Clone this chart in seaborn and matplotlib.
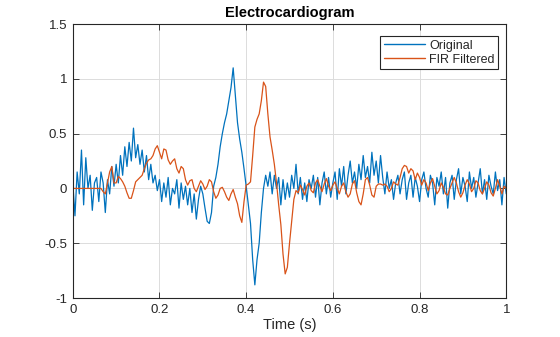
import numpy as np
import pandas as pd
import matplotlib
matplotlib.use("Agg")
import matplotlib.pyplot as plt
import seaborn as sns

time_s = [round(i * 0.005, 3) for i in range(201)]

original = [
    0.05, -0.25, 0.15, -0.05, 0.35, -0.15, 0.28, 0.0, 0.12, -0.2,
    0.05, 0.1, -0.12, 0.15, 0.05, -0.22, 0.08, -0.05, 0.2, 0.02,
    0.22, 0.05, 0.3, 0.12, 0.38, 0.2, 0.42, 0.25, 0.55, 0.28,
    0.4, 0.22, 0.35, 0.15, 0.3, 0.08, 0.22, 0.05, 0.12, -0.02,
    0.08, -0.12, 0.05, -0.08, 0.1, -0.15, 0.0, -0.05, 0.08, -0.18,
    0.05, -0.1, 0.02, -0.15, 0.0, -0.22, -0.05, -0.28, -0.1, 0.02,
    -0.05, -0.18, -0.3, -0.32, -0.22, 0.02, 0.1, 0.22, 0.38, 0.5,
    0.6, 0.68, 0.8, 0.92, 1.1, 0.85, 0.6, 0.45, 0.33, 0.18,
    0.02, -0.15, -0.32, -0.65, -0.88, -0.65, -0.5, -0.22, 0.0, 0.12,
    0.02, 0.15, -0.05, 0.12, 0.0, 0.1, -0.15, 0.08, -0.1, 0.05,
    -0.08, 0.12, 0.0, 0.22, -0.05, 0.1, -0.1, 0.05, -0.12, 0.08,
    0.0, 0.12, -0.08, 0.1, -0.15, 0.05, 0.15, -0.05, 0.1, -0.08,
    0.05, 0.15, -0.1, 0.18, 0.02, 0.2, -0.05, 0.12, 0.25, 0.05,
    0.15, 0.0, 0.22, 0.08, 0.3, 0.1, 0.2, 0.05, 0.33, 0.12,
    0.25, 0.05, 0.3, 0.1, -0.05, 0.15, 0.0, 0.08, -0.1, 0.05,
    0.12, -0.05, 0.08, 0.15, -0.1, 0.05, 0.12, -0.08, 0.1, 0.02,
    -0.12, 0.08, 0.15, 0.0, -0.08, 0.12, 0.05, -0.15, 0.1, 0.02,
    0.15, -0.05, 0.1, -0.18, 0.05, 0.12, -0.1, 0.08, 0.18, -0.05,
    0.1, 0.02, -0.12, 0.15, 0.0, 0.1, -0.08, 0.05, 0.18, -0.05,
    0.08, -0.1, 0.12, 0.02, -0.05, 0.15, -0.02, 0.08, -0.15, 0.1,
    -0.05,
]

fir_filtered = [
    0.0, 0.0, 0.0, 0.0, 0.0, 0.0, 0.0, 0.0, 0.0, 0.0,
    0.0, 0.0, 0.0, 0.0, -0.03, -0.05, 0.05, 0.15, 0.2, 0.05,
    0.05, 0.11, 0.09, 0.06, 0.02, -0.04, -0.09, -0.09, -0.02, 0.06,
    0.08, 0.1, 0.12, 0.18, 0.23, 0.26, 0.27, 0.3, 0.36, 0.39,
    0.33, 0.27, 0.36, 0.35, 0.26, 0.22, 0.25, 0.27, 0.18, 0.14,
    0.2, 0.18, 0.08, 0.03, 0.07, 0.08, 0.0, -0.03, 0.02, 0.07,
    0.04, -0.01, 0.02, 0.08, 0.06, -0.03, -0.09, -0.06, 0.0, 0.01,
    -0.03, -0.08, -0.11, -0.05, -0.01, -0.08, -0.14, -0.25, -0.31, -0.12,
    0.03, 0.04, 0.06, 0.3, 0.56, 0.63, 0.68, 0.8, 0.97, 0.93,
    0.68, 0.47, 0.35, 0.22, 0.05, -0.15, -0.33, -0.6, -0.78, -0.72,
    -0.5, -0.3, -0.1, -0.02, -0.04, 0.03, -0.01, -0.06, 0.02, 0.05,
    -0.02, -0.04, 0.05, 0.08, 0.02, -0.03, 0.04, 0.09, 0.02, -0.02,
    0.03, 0.06, 0.0, -0.05, 0.02, 0.05, -0.03, -0.08, -0.05, 0.04,
    0.07, -0.04, -0.12, -0.15, -0.05, 0.08, 0.1, 0.03, -0.06, -0.08,
    0.02, 0.04, 0.04, 0.03, 0.04, 0.02, -0.03, 0.0, 0.06, 0.04,
    0.03, 0.1, 0.18, 0.21, 0.2, 0.14, 0.18, 0.16, 0.08, 0.14,
    0.1, 0.03, 0.08, 0.05, -0.02, 0.05, 0.09, 0.02, -0.05, -0.02,
    0.05, 0.01, -0.05, -0.06, 0.0, 0.05, 0.1, 0.05, -0.03, -0.08,
    -0.04, 0.03, 0.08, 0.04, -0.03, 0.0, 0.07, 0.05, -0.02, -0.05,
    0.0, 0.06, 0.03, -0.04, -0.07, 0.0, 0.08, 0.02, -0.05, 0.02,
    0.0,
]

series_names = ["Original", "FIR Filtered"]
series_colors = ["#0072BD", "#D95319"]
x_ticks = [0, 0.2, 0.4, 0.6, 0.8, 1]
x_tick_labels = ["0", "0.2", "0.4", "0.6", "0.8", "1"]
y_ticks = [-1, -0.5, 0, 0.5, 1, 1.5]
y_tick_labels = ["-1", "-0.5", "0", "0.5", "1", "1.5"]

df = pd.concat([
    pd.DataFrame({"t": time_s, "v": original, "series": series_names[0]}),
    pd.DataFrame({"t": time_s, "v": fir_filtered, "series": series_names[1]}),
], ignore_index=True)

sns.set_theme(style="white")
plt.rcParams["font.family"] = ["Liberation Sans", "DejaVu Sans"]
plt.rcParams["axes.unicode_minus"] = False

fig = plt.figure(figsize=(5.6, 3.37), dpi=100)
ax = fig.add_axes([0.130, 0.1157, 0.774, 0.813])

sns.lineplot(data=df, x="t", y="v", hue="series", hue_order=series_names,
             palette=series_colors, linewidth=0.9, ax=ax, sort=False,
             estimator=None)

ax.set_xlim(0, 1)
ax.set_ylim(-1, 1.5)
ax.set_xticks(x_ticks)
ax.set_xticklabels(x_tick_labels)
ax.set_yticks(y_ticks)
ax.set_yticklabels(y_tick_labels)
ax.grid(True, color="#dcdcdc", linewidth=0.7)
ax.set_axisbelow(True)
for s in ax.spines.values():
    s.set_color("#262626")
    s.set_linewidth(0.8)
ax.tick_params(direction="in", length=4, width=0.6, colors="#262626",
               labelsize=9.5, top=True, right=True, bottom=True, left=True,
               labelcolor="#262626", pad=4)
ax.set_xlabel("Time (s)", fontsize=10.5, color="#262626", labelpad=2)
ax.set_ylabel("")
ax.set_title("Electrocardiogram", fontsize=10.5, fontweight="bold",
             color="#000000", pad=5)

leg = ax.legend(loc="upper right", bbox_to_anchor=(0.9815, 0.956),
                fontsize=9, frameon=True, fancybox=False,
                edgecolor="#262626", framealpha=1, handlelength=3.3,
                borderaxespad=0.0, borderpad=0.3, labelspacing=0.15,
                handletextpad=0.3)
leg.get_frame().set_linewidth(0.8)
for line in leg.get_lines():
    line.set_linewidth(1.0)

fig.savefig("out.png", dpi=100)
